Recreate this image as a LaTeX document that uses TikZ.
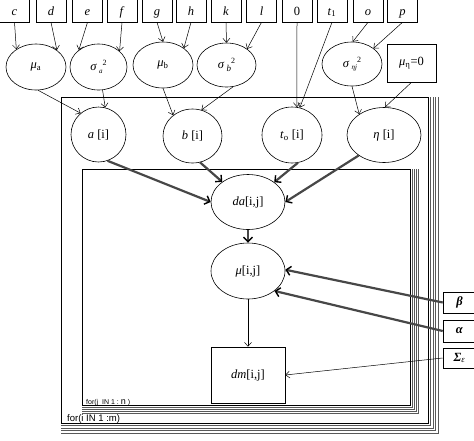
\documentclass[tikz,border=0pt]{standalone}
\usepackage{fontspec}
\setmainfont{Liberation Serif}
\newfontfamily\labsans{Liberation Sans}
\usetikzlibrary{shapes.geometric,arrows.meta}
\newcommand{\lsb}[1]{\raisebox{-0.45ex}{\scriptsize #1}}
\newcommand{\lsp}[1]{\raisebox{0.9ex}{\footnotesize #1}}
\begin{document}
\begin{tikzpicture}[x=1pt,y=-1pt,
  every node/.style={font=\fontsize{12.5}{14}\selectfont, inner sep=0pt},
  topbox/.style={draw, line width=0.6pt, minimum width=30pt, minimum height=26pt, text height=14pt, text depth=2pt},
  ell/.style={draw, ellipse, line width=0.6pt},
  rbox/.style={draw, line width=0.6pt},
  sidebox/.style={draw, line width=0.6pt, minimum width=33pt},
  thinarr/.style={-{Straight Barb[length=4pt,width=7pt]}, line width=0.5pt},
  thickarr/.style={-{Straight Barb[length=4.5pt,width=9pt,line width=1.4pt,color=black]}, line width=2.2pt, draw=black!72},
  plate/.style={line width=0.6pt},
  platel/.style={line width=0.6pt, draw=black!65},
  platetext/.style={font=\labsans\fontsize{#1}{#1}\selectfont, anchor=base west}
]
\useasboundingbox (0,0) rectangle (474,440);
% plates
\draw[plate] (61,97) rectangle (428,423);
\foreach \d in {2.5,5,7.5,10} \draw[platel] (61,423+\d) -- (428+\d,423+\d) -- (428+\d,97);
\draw[plate] (82,169) rectangle (410,405);
\foreach \d in {2,4,6,8} \draw[platel] (82,405+\d) -- (410+\d,405+\d) -- (410+\d,169);
\node[platetext=7] (forj) at (86,404) {for(j\ \ IN\ 1\ :\ {\fontsize{9}{9}\selectfont n}\ )};
\node[platetext=9.5] (fori) at (67,421.5) {for(i IN 1 :m)};
% top boxes
\node[topbox] (c) at (14.5,9) {\textit{c}};
\node[topbox] (d) at (51,9) {\textit{d}};
\node[topbox] (e) at (87.5,9) {\textit{e}};
\node[topbox] (f) at (122,9) {\textit{f}};
\node[topbox] (g) at (157,9) {\textit{g}};
\node[topbox] (h) at (191,9) {\textit{h}};
\node[topbox] (k) at (226,9) {\textit{k}};
\node[topbox] (l) at (261.5,9) {\textit{l}};
\node[topbox] (z) at (297,9) {0};
\node[topbox] (t) at (332,9) {\textit{t}\textsubscript{1}};
\node[topbox] (o) at (368,9) {\textit{o}};
\node[topbox] (p) at (402.5,9) {\textit{p}};
% first row
\node[ell, minimum width=60pt, minimum height=46pt] (mua) at (36,67) {\textit{μ}\textsubscript{a}};
\node[ell, minimum width=57pt, minimum height=46pt] (sa) at (98.5,67) {\textit{σ}\,\lsb{\textit{a}}\lsp{2}};
\node[ell, minimum width=60pt, minimum height=46pt] (mub) at (163,65) {\textit{μ}\textsubscript{b}};
\node[ell, minimum width=59pt, minimum height=44pt] (sb) at (226.5,65) {\textit{σ}\,\lsb{\small\textit{b}}\lsp{2}};
\node[ell, minimum width=60pt, minimum height=44pt] (se) at (352,64) {\textit{σ}\,\lsb{\textit{ηj}}\lsp{2}};
\node[rbox, minimum width=49pt, minimum height=38pt] (mue) at (411.5,63) {\textit{μ}\textsubscript{η}=0};
% second row
\node[ell, minimum width=55pt, minimum height=55pt] (ai) at (98.5,134.5) {\textit{a} [i]};
\node[ell, minimum width=59pt, minimum height=54pt] (bi) at (192.5,136) {\textit{b} [i]};
\node[ell, minimum width=60pt, minimum height=56pt] (ti) at (292,135) {\textit{t}\textsubscript{o} [i]};
\node[ell, minimum width=74pt, minimum height=55pt] (eta) at (384,135) {\textit{η} [i]};
\node[ell, minimum width=74pt, minimum height=55pt] (da) at (248,202) {\textit{da}[i,j]};
\node[ell, minimum width=74pt, minimum height=56pt] (mu) at (248,271) {\textit{μ}[i,j]};
\node[rbox, minimum width=74pt, minimum height=56pt] (dm) at (248,375) {\textit{dm}[i,j]};
% side boxes
\node[sidebox, minimum height=21pt] (beta) at (459.5,302.5) {\textbf{\textit{β}}};
\node[sidebox, minimum height=22pt] (alpha) at (459.5,331) {\textbf{\textit{α}}};
\node[sidebox, minimum height=20pt] (sig) at (459.5,358) {\textbf{\textit{Σ}}\textsubscript{\textit{ε}}};
% thin arrows
\draw[thinarr] (c.south) -- (mua.138);
\draw[thinarr] (d.south) -- (mua.39);
\draw[thinarr] (e.south) -- (sa.139);
\draw[thinarr] (f.south) -- (sa.37);
\draw[thinarr] (g.south) -- (mub.north);
\draw[thinarr] (h.south) -- (mub.39);
\draw[thinarr] (k.south) -- (sb.north);
\draw[thinarr] (l.south) -- (sb.38);
\draw[thinarr] (z.south) -- (ti.80);
\draw[thinarr] (t.south) -- (ti.74);
\draw[thinarr] (o.south) -- (se.88);
\draw[thinarr] (p.south) -- (se.36);
\draw[thinarr] (se.south) -- (eta.140);
\draw[thinarr] (mue.south) -- (eta.88);
\draw[thinarr] (mua.-85) -- (ai.130);
\draw[thinarr] (sa.-80) -- (ai.76);
\draw[thinarr] (mub.south) -- (bi.133);
\draw[thinarr] (sb.-73) -- (bi.71);
% thick arrows
\draw[thickarr] (ai.-71) -- (da.west);
\draw[thickarr] (bi.-74) -- (da.142);
\draw[thickarr] (ti.-78) -- (da.37);
\draw[thickarr] (eta.-141) -- (da.east);
\draw[thickarr] (da.south) -- (mu.north);
\draw[thickarr] (beta.west) -- (mu.2);
\draw[thickarr] (alpha.west) -- (mu.-37);
\draw[thinarr] (mu.south) -- (dm.north);
\draw[thinarr] (sig.west) -- (dm.east);
\end{tikzpicture}
\end{document}
